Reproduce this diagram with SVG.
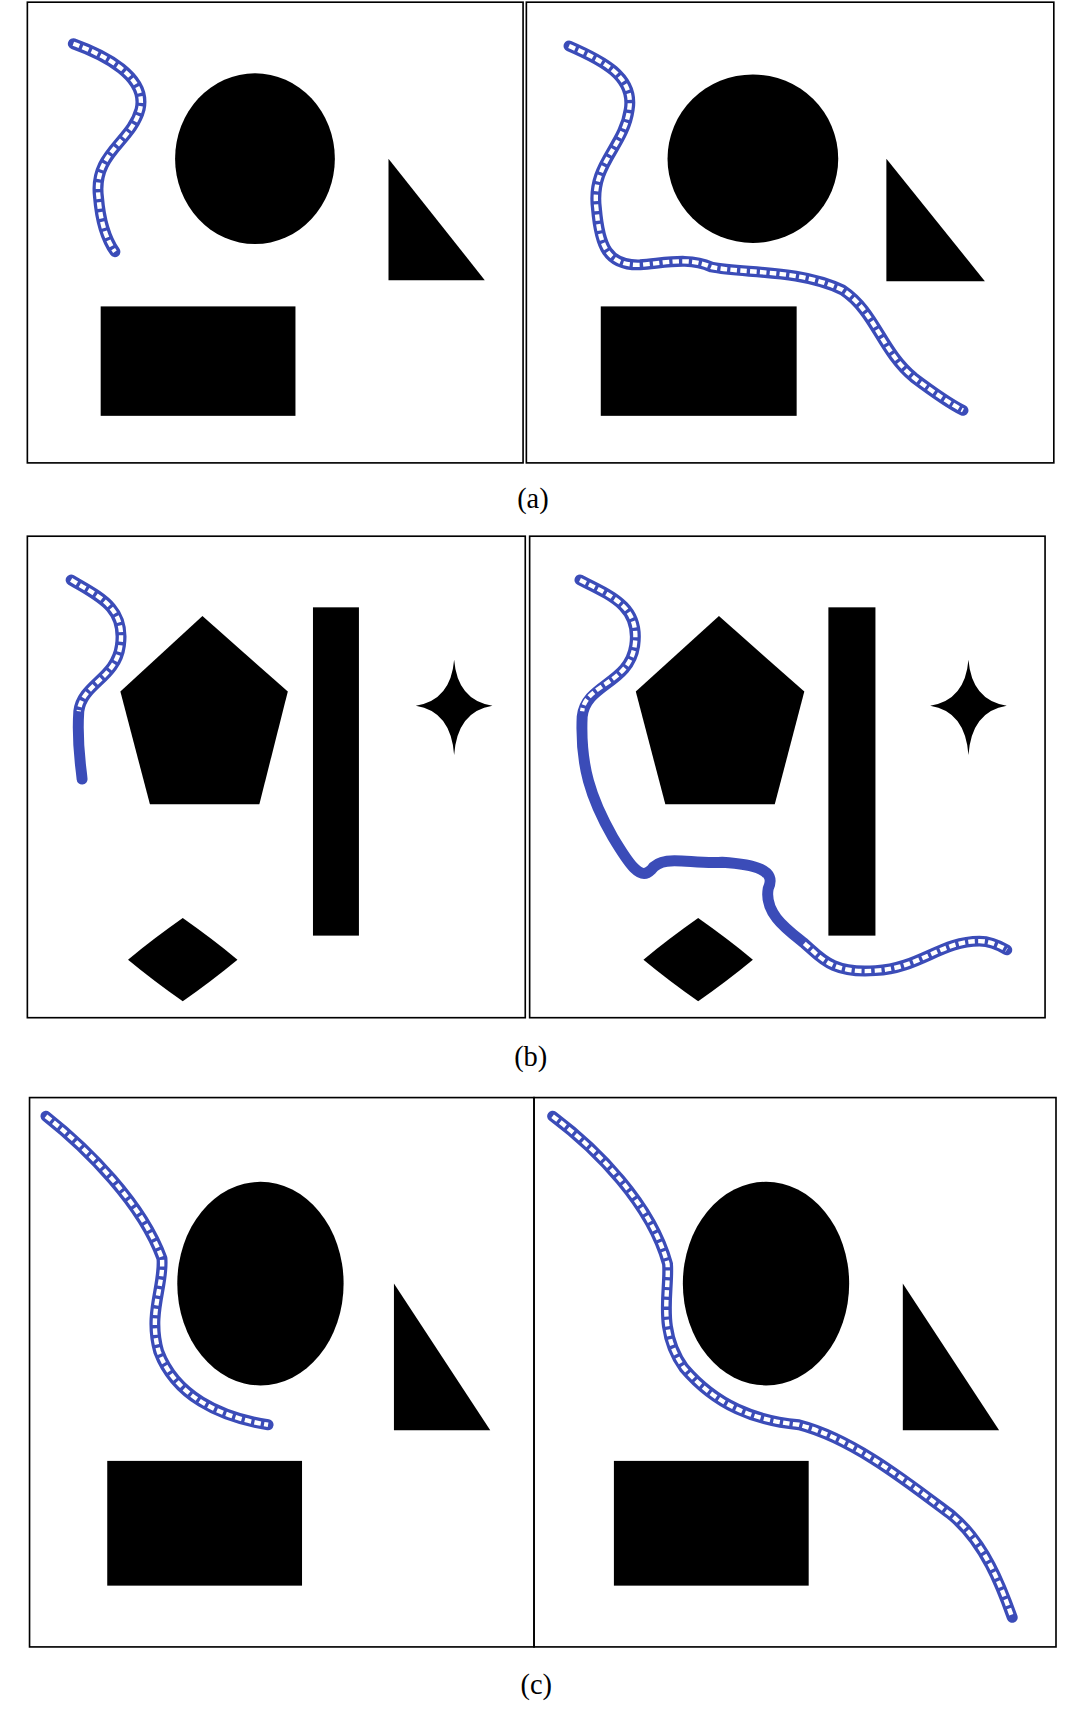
<svg xmlns="http://www.w3.org/2000/svg" width="1068" height="1729" viewBox="0 0 1068 1729">
<defs><style>
.box{fill:none;stroke:#000;stroke-width:1.5}
.ob{fill:#000}
.p{fill:none;stroke:#3b4cb8;stroke-width:10;stroke-linecap:round;stroke-linejoin:round}
.pi{fill:none;stroke:#fff;stroke-width:4;stroke-dasharray:6 3;stroke-linecap:butt}
.lbl{font-family:"Liberation Serif",serif;font-size:26px;fill:#000;text-anchor:middle}
</style></defs>
<rect width="1068" height="1729" fill="#fff"/>
<g transform="scale(1.0943)">
<g id="panel-a">
<rect class="box" x="25" y="2" width="453" height="421"/>
<rect class="box" x="481" y="2" width="482" height="421"/>
<ellipse class="ob" cx="233" cy="145" rx="73" ry="78"/>
<polygon class="ob" points="355,145 355,256 443,256"/>
<rect class="ob" x="92" y="280" width="178" height="100"/>
<ellipse class="ob" cx="688" cy="145" rx="78" ry="77"/>
<polygon class="ob" points="810,145 810,257 900,257"/>
<rect class="ob" x="549" y="280" width="179" height="100"/>
</g>
<g id="path-a1"><path class="p" d="M67,40 C95,50 135,70 128,100 C120,130 85,140 90,180 C92,205 98,220 105,230"/><path class="pi" d="M67,40 C95,50 135,70 128,100 C120,130 85,140 90,180 C92,205 98,220 105,230"/></g>
<g id="path-a2"><path class="p" d="M520,42 C550,55 580,70 575,100 C570,135 540,150 545,190 C548,225 555,243 585,242 C610,240 630,235 650,244 C680,250 730,246 770,265 C800,285 805,320 835,345 C855,360 870,370 880,375"/><path class="pi" d="M520,42 C550,55 580,70 575,100 C570,135 540,150 545,190 C548,225 555,243 585,242 C610,240 630,235 650,244 C680,250 730,246 770,265 C800,285 805,320 835,345 C855,360 870,370 880,375"/></g>
<text class="lbl" x="487" y="464">(a)</text>
<g id="panel-b">
<rect class="box" x="25" y="490" width="455" height="440"/>
<rect class="box" x="484" y="490" width="471" height="440"/>
<polygon class="ob" points="185,563 263,632 237,735 137,735 110,632"/>
<rect class="ob" x="286" y="555" width="42" height="300"/>
<path class="ob" d="M415,603 Q418,640 450,645 Q418,650 415,690 Q412,650 380,645 Q412,640 415,603Z"/>
<path class="ob" d="M167,839 Q194,858 217,877 Q194,896 167,915 Q140,896 117,877 Q140,858 167,839Z"/>
<polygon class="ob" points="657,563 735,632 708,735 608,735 581,632"/>
<rect class="ob" x="757" y="555" width="43" height="300"/>
<path class="ob" d="M885,603 Q888,640 920,645 Q888,650 885,690 Q882,650 850,645 Q882,640 885,603Z"/>
<path class="ob" d="M638,839 Q665,858 688,877 Q665,896 638,915 Q611,896 588,877 Q611,858 638,839Z"/>
</g>
<g id="path-b1"><path class="p" d="M65,530 C90,545 115,555 110,590 C106,620 75,625 72,650 C70,680 74,700 75,712"/><path class="pi" d="M65,530 C90,545 115,555 110,590 C106,620 75,625 72,650"/></g>
<g id="path-b2"><path class="p" d="M530,530 C560,545 585,555 580,590 C575,625 535,625 532,655 C530,700 540,730 560,765 C575,790 585,805 595,795 C605,780 630,790 660,788 C690,790 710,795 702,812 C698,835 720,850 735,862 C750,875 760,890 800,887 C840,885 860,860 895,860 C905,860 915,865 920,868"/>
<path class="pi" d="M530,530 C560,545 585,555 580,590 C575,625 535,625 532,650"/>
<path class="pi" d="M735,862 C750,875 760,890 800,887 C840,885 860,860 895,860 C905,860 915,865 920,868"/></g>
<text class="lbl" x="485" y="974">(b)</text>
<g id="panel-c">
<rect class="box" x="27" y="1003" width="461" height="502"/>
<rect class="box" x="488" y="1003" width="477" height="502"/>
<ellipse class="ob" cx="238" cy="1173" rx="76" ry="93"/>
<polygon class="ob" points="360,1173 360,1307 448,1307"/>
<rect class="ob" x="98" y="1335" width="178" height="114"/>
<ellipse class="ob" cx="700" cy="1173" rx="76" ry="93"/>
<polygon class="ob" points="825,1173 825,1307 913,1307"/>
<rect class="ob" x="561" y="1335" width="178" height="114"/>
</g>
<g id="path-c1"><path class="p" d="M42,1020 C80,1050 130,1100 148,1150 C150,1175 135,1200 145,1235 C160,1275 200,1295 245,1302"/><path class="pi" d="M42,1020 C80,1050 130,1100 148,1150 C150,1175 135,1200 145,1235 C160,1275 200,1295 245,1302"/></g>
<g id="path-c2"><path class="p" d="M505,1020 C545,1050 595,1100 610,1155 C612,1180 600,1215 625,1250 C655,1285 690,1298 730,1302 C780,1315 830,1355 870,1385 C900,1410 915,1450 925,1478"/><path class="pi" d="M505,1020 C545,1050 595,1100 610,1155 C612,1180 600,1215 625,1250 C655,1285 690,1298 730,1302 C780,1315 830,1355 870,1385 C900,1410 915,1450 925,1478"/></g>
<text class="lbl" x="490" y="1548">(c)</text>
</g>
</svg>
